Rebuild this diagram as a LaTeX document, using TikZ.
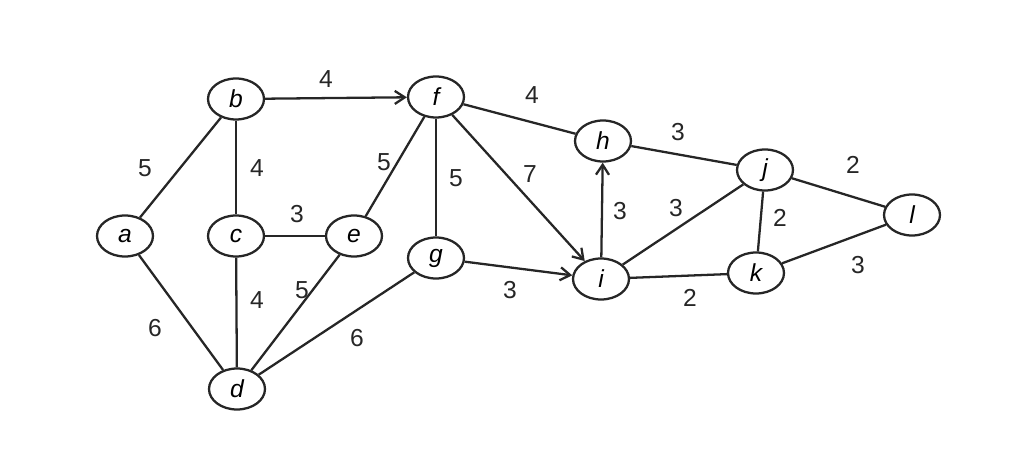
\documentclass[tikz,border=0pt]{standalone}
\usepackage{fontspec}
\setmainfont{Liberation Sans}
\usetikzlibrary{
  arrows.meta,
  shapes,
}

\begin{document}
\begin{tikzpicture}[x=0.02cm,y=-0.02cm]%
\tikzstyle{vertex}=[ellipse,draw=black!85,line width=1.3pt,minimum width=1.12cm,minimum height=0.82cm,inner sep=0pt,font=\fontsize{14}{16}\selectfont\itshape]
\tikzstyle{weight}=[inner sep=0pt,text=black!85,font=\fontsize{14}{16}\selectfont]
\tikzstyle{edge}=[draw=black!85,line width=1.3pt]
\tikzstyle{arc}=[edge,-{Straight Barb[length=2mm,width=2.6mm]}]
\useasboundingbox (0,0) rectangle (1024,449);
% vertices
\node[vertex] (a) at (125,236) {a};
\node[vertex] (b) at (236,99) {b};
\node[vertex] (c) at (236,236) {c};
\node[vertex] (d) at (237,389) {d};
\node[vertex] (e) at (354,236) {e};
\node[vertex] (f) at (436,97) {f};
\node[vertex] (g) at (436,258) {g};
\node[vertex] (h) at (603,141) {h};
\node[vertex] (i) at (601,279) {i};
\node[vertex] (j) at (765,170) {j};
\node[vertex] (k) at (756,273) {k};
\node[vertex] (l) at (912,215) {l};
% edges
\draw[edge] (a) -- (b);
\draw[edge] (a) -- (d);
\draw[edge] (b) -- (c);
\draw[arc] (b) -- (f);
\draw[edge] (c) -- (e);
\draw[edge] (c) -- (d);
\draw[edge] (d) -- (e);
\draw[edge] (d) -- (g);
\draw[edge] (e) -- (f);
\draw[edge] (f) -- (g);
\draw[edge] (f) -- (h);
\draw[arc] (f) -- (i);
\draw[arc] (g) -- (i);
\draw[arc] (i) -- (h);
\draw[edge] (h) -- (j);
\draw[edge] (i) -- (j);
\draw[edge] (i) -- (k);
\draw[edge] (j) -- (k);
\draw[edge] (j) -- (l);
\draw[edge] (k) -- (l);
% weights
\node[weight] (wab) at (145,168) {5};
\node[weight] (wad) at (155,328) {6};
\node[weight] (wbc) at (257,168) {4};
\node[weight] (wbf) at (326,79) {4};
\node[weight] (wce) at (297,214) {3};
\node[weight] (wcd) at (257,300) {4};
\node[weight] (wde) at (302,290) {5};
\node[weight] (wdg) at (357,338) {6};
\node[weight] (wef) at (384,162) {5};
\node[weight] (wfg) at (456,178) {5};
\node[weight] (wfh) at (532,95) {4};
\node[weight] (wfi) at (530,174) {7};
\node[weight] (wgi) at (510,290) {3};
\node[weight] (wih) at (620,211) {3};
\node[weight] (whj) at (678,132) {3};
\node[weight] (wij) at (676,208) {3};
\node[weight] (wik) at (690,298) {2};
\node[weight] (wjk) at (780,218) {2};
\node[weight] (wjl) at (853,165) {2};
\node[weight] (wkl) at (858,265) {3};
\end{tikzpicture}
\end{document}
